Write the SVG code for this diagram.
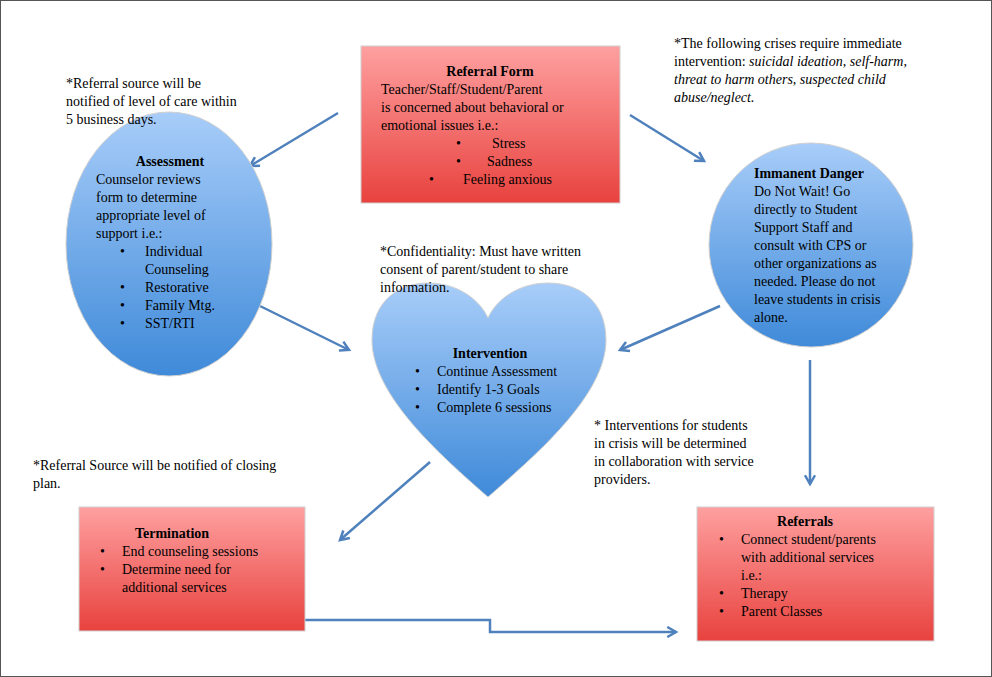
<svg xmlns="http://www.w3.org/2000/svg" width="992" height="677" viewBox="0 0 992 677">
<style>
text{font-family:"Liberation Serif","DejaVu Serif",serif;font-size:14px;fill:#000}
.b{font-weight:bold}
.c{text-anchor:middle}
.node{stroke:#d0d0d0;stroke-width:1}
.con{stroke:#4f81bd;stroke-width:2.5;fill:none;marker-end:url(#ah)}
</style>
<defs>
<linearGradient id="red" x1="0" y1="0" x2="0" y2="1"><stop offset="0" stop-color="#fea0a0"/><stop offset="1" stop-color="#e8423e"/></linearGradient>
<linearGradient id="blue" x1="0" y1="0" x2="0" y2="1"><stop offset="0" stop-color="#a8cdf9"/><stop offset="1" stop-color="#3f8ad9"/></linearGradient>
<marker id="ah" viewBox="0 0 10 10" refX="8" refY="5" markerWidth="5" markerHeight="5" orient="auto"><path d="M1,1 L8,5 L1,9" fill="none" stroke="#4f81bd" stroke-width="2"/></marker>
</defs>
<rect x="0" y="0" width="992" height="677" fill="#fff" stroke="#555" stroke-width="2"/>
<g id="connectors">
<path class="con" d="M338,113 L250,166"/>
<path class="con" d="M630,115 L704,161"/>
<path class="con" d="M260,306 L349,350"/>
<path class="con" d="M720,306 L620,350"/>
<path class="con" d="M430,462 L340,540"/>
<path class="con" d="M810,360 L810,484"/>
<path class="con" d="M305,620 L490,620 L490,632 L676,632"/>
</g>
<g id="referral-form">
<rect class="node" x="361" y="46" width="259" height="157" fill="url(#red)"/>
<text class="b c" x="490" y="76">Referral Form</text>
<text x="381" y="94">Teacher/Staff/Student/Parent</text>
<text x="381" y="112">is concerned about behavioral or</text>
<text x="381" y="130">emotional issues i.e.:</text>
<text x="456" y="148">•</text><text x="492" y="148">Stress</text>
<text x="456" y="166">•</text><text x="487" y="166">Sadness</text>
<text x="429" y="184">•</text><text x="463" y="184">Feeling anxious</text>
</g>
<g id="assessment">
<ellipse class="node" cx="169" cy="244" rx="103" ry="132" fill="url(#blue)"/>
<text class="b c" x="170" y="166">Assessment</text>
<text x="96" y="184">Counselor reviews</text>
<text x="96" y="202">form to determine</text>
<text x="96" y="220">appropriate level of</text>
<text x="96" y="238">support i.e.:</text>
<text x="120" y="256">•</text><text x="145" y="256">Individual</text>
<text x="145" y="274">Counseling</text>
<text x="120" y="292">•</text><text x="145" y="292">Restorative</text>
<text x="120" y="310">•</text><text x="145" y="310">Family Mtg.</text>
<text x="120" y="328">•</text><text x="145" y="328">SST/RTI</text>
</g>
<g id="immanent-danger">
<ellipse class="node" cx="811" cy="245" rx="102" ry="102" fill="url(#blue)"/>
<text class="b" x="754" y="178">Immanent Danger</text>
<text x="754" y="196">Do Not Wait! Go</text>
<text x="754" y="214">directly to Student</text>
<text x="754" y="232">Support Staff and</text>
<text x="754" y="250">consult with CPS or</text>
<text x="754" y="268">other organizations as</text>
<text x="754" y="286">needed.  Please do not</text>
<text x="754" y="304">leave students in crisis</text>
<text x="754" y="322">alone.</text>
</g>
<g id="intervention">
<path class="node" d="M488,497 C440,455 372,395 372,340 C372,300 400,283 428,283 C458,283 480,300 488,318 C496,300 518,283 548,283 C578,283 606,300 606,340 C606,395 536,455 488,497 Z" fill="url(#blue)"/>
<text class="b c" x="490" y="358">Intervention</text>
<text x="415" y="376">•</text><text x="437" y="376">Continue Assessment</text>
<text x="415" y="394">•</text><text x="437" y="394">Identify 1-3 Goals</text>
<text x="415" y="412">•</text><text x="437" y="412">Complete 6 sessions</text>
</g>
<g id="termination">
<rect class="node" x="79" y="507" width="226" height="124" fill="url(#red)"/>
<text class="b c" x="172" y="538">Termination</text>
<text x="100" y="556">•</text><text x="122" y="556">End counseling sessions</text>
<text x="100" y="574">•</text><text x="122" y="574">Determine need for</text>
<text x="122" y="592">additional services</text>
</g>
<g id="referrals">
<rect class="node" x="697" y="507" width="237" height="134" fill="url(#red)"/>
<text class="b c" x="805" y="526">Referrals</text>
<text x="719" y="544">•</text><text x="741" y="544">Connect student/parents</text>
<text x="741" y="562">with additional services</text>
<text x="741" y="580">i.e.:</text>
<text x="719" y="598">•</text><text x="741" y="598">Therapy</text>
<text x="719" y="616">•</text><text x="741" y="616">Parent Classes</text>
</g>
<g id="notes">
<text x="66" y="88">*Referral source will be</text>
<text x="66" y="106">notified of level of care within</text>
<text x="66" y="124">5 business days.</text>
<text x="674" y="48">*The following crises require immediate</text>
<text x="674" y="66">intervention: <tspan font-style="italic">suicidal ideation, self-harm,</tspan></text>
<text x="674" y="84" font-style="italic">threat to harm others, suspected child</text>
<text x="674" y="102" font-style="italic">abuse/neglect.</text>
<text x="380" y="256">*Confidentiality: Must have written</text>
<text x="380" y="274">consent of parent/student to share</text>
<text x="380" y="292">information.</text>
<text x="594" y="430">* Interventions for students</text>
<text x="594" y="448">in crisis will be determined</text>
<text x="594" y="466">in collaboration with service</text>
<text x="594" y="484">providers.</text>
<text x="33" y="470">*Referral Source will be notified of closing</text>
<text x="33" y="488">plan.</text>
</g>
</svg>
